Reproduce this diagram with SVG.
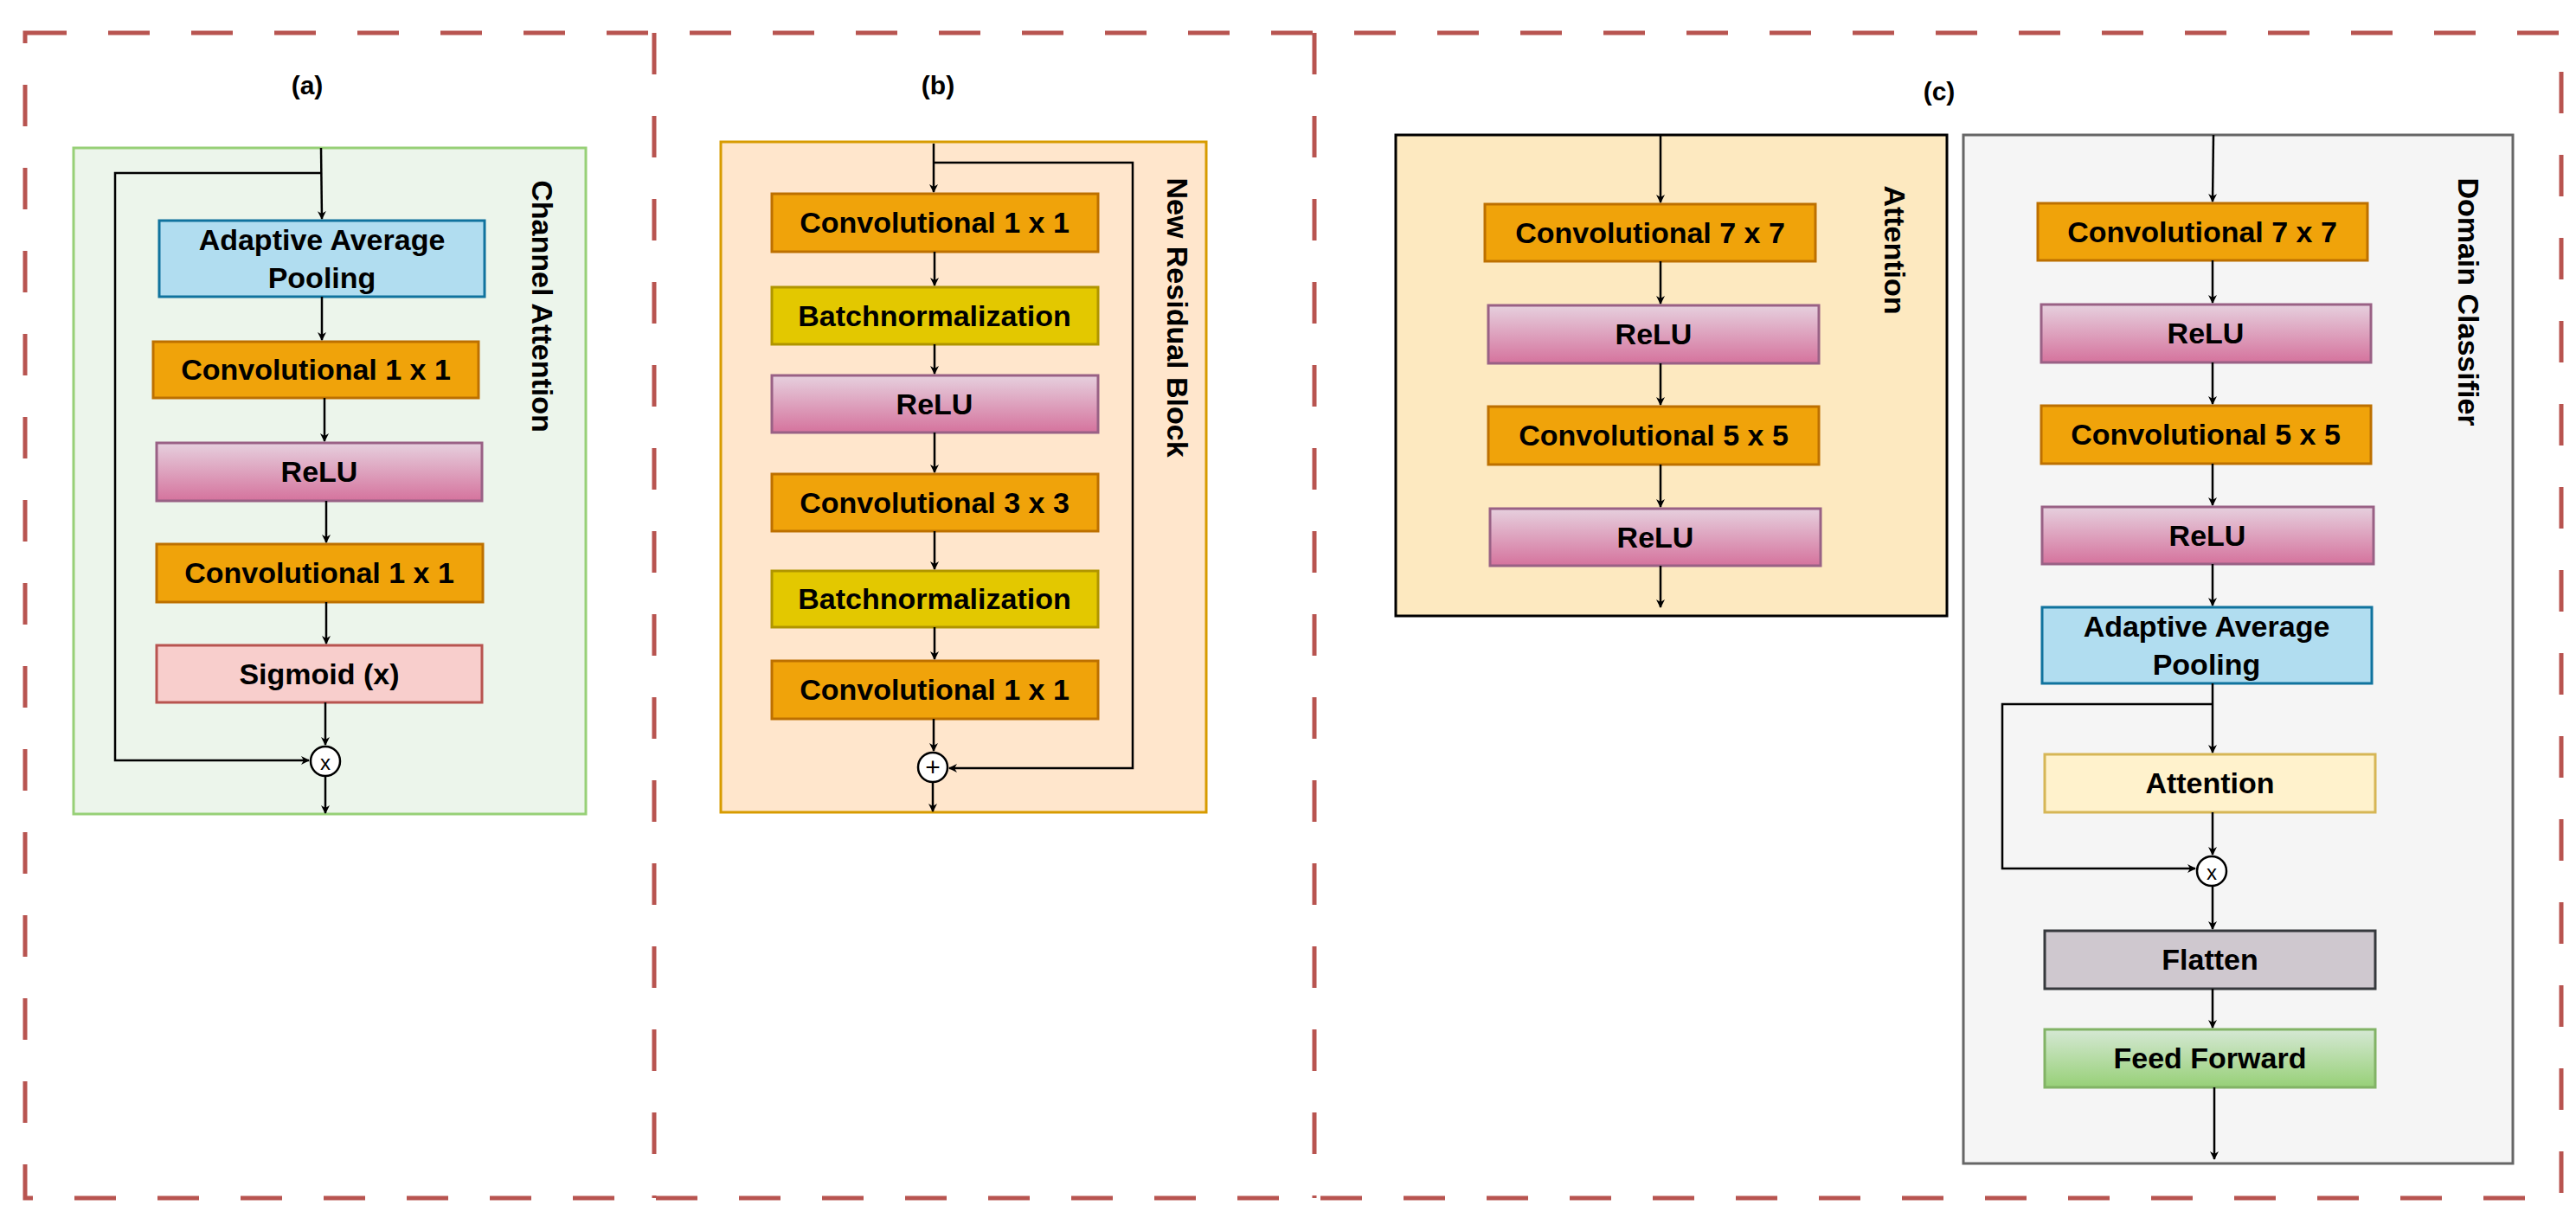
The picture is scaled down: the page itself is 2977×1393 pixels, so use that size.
<svg xmlns="http://www.w3.org/2000/svg" width="2977" height="1393" viewBox="0 0 2977 1393">
<defs>
<linearGradient id="gRelu" x1="0" y1="0" x2="0" y2="1"><stop offset="0" stop-color="#e6d0de"/><stop offset="1" stop-color="#d5739d"/></linearGradient>
<linearGradient id="gFF" x1="0" y1="0" x2="0" y2="1"><stop offset="0" stop-color="#d5e8d4"/><stop offset="1" stop-color="#97d077"/></linearGradient>
<marker id="ah" viewBox="0 0 10 10" refX="9" refY="5" markerWidth="10" markerHeight="10" markerUnits="userSpaceOnUse" orient="auto"><path d="M0,0 L10,5 L0,10 L3,5 z" fill="#000"/></marker>
</defs>
<style>
text{font-family:"Liberation Sans",Arial,sans-serif;font-weight:bold;fill:#000}
.t{font-size:34px;text-anchor:middle;dominant-baseline:central}
.lab{font-size:30px;text-anchor:middle;dominant-baseline:central}
.frame{fill:none;stroke:#b85450;stroke-width:5;stroke-dasharray:48 48}
.conv{fill:#f0a30a;stroke:#bd7000;stroke-width:3}
.relu{fill:url(#gRelu);stroke:#996185;stroke-width:3}
.aap{fill:#b1ddf0;stroke:#10739e;stroke-width:3}
.bn{fill:#e3c800;stroke:#b09500;stroke-width:3}
.sig{fill:#f8cecc;stroke:#b85450;stroke-width:3}
.att{fill:#fff2cc;stroke:#d6b656;stroke-width:3}
.fl{fill:#cfc8cf;stroke:#36393d;stroke-width:3}
.ff{fill:url(#gFF);stroke:#82b366;stroke-width:3}
.c{fill:none;stroke:#000;stroke-width:2.5;marker-end:url(#ah)}
.circ{fill:#fff;stroke:#000;stroke-width:2.5}
</style>
<g id="frames">
<path class="frame" d="M29,38 H2960 V1385 H29 Z"/>
<line class="frame" x1="756" y1="38" x2="756" y2="1385"/>
<line class="frame" x1="1519" y1="38" x2="1519" y2="1385"/>
</g>
<g id="panelA">
<text class="lab" x="355" y="98">(a)</text>
<rect x="85" y="171" width="592" height="770" fill="#ecf5eb" stroke="#97d077" stroke-width="3"/>
<text class="t" transform="translate(627,354) rotate(90)">Channel Attention</text>
</g>
<g id="a_aap"><rect class="aap" x="184" y="255" width="376" height="88"/><text class="t" x="372" y="277">Adaptive Average</text><text class="t" x="372" y="321">Pooling</text></g>
<g id="a_conv1"><rect class="conv" x="177" y="395" width="376" height="65"/><text class="t" x="365" y="427">Convolutional 1 x 1</text></g>
<g id="a_relu"><rect class="relu" x="181" y="512" width="376" height="67"/><text class="t" x="369" y="545">ReLU</text></g>
<g id="a_conv2"><rect class="conv" x="181" y="629" width="377" height="67"/><text class="t" x="369" y="662">Convolutional 1 x 1</text></g>
<g id="a_sig"><rect class="sig" x="181" y="746" width="376" height="66"/><text class="t" x="369" y="779">Sigmoid (x)</text></g>
<g id="a_mul"><circle class="circ" cx="376" cy="880" r="17"/><text x="376" y="881" style="font-size:24px;font-weight:normal;text-anchor:middle;dominant-baseline:central">x</text></g>

<g id="panelB">
<text class="lab" x="1084" y="98">(b)</text>
<rect x="833" y="164" width="561" height="775" fill="#ffe6cc" stroke="#d79b00" stroke-width="3"/>
<text class="t" transform="translate(1361,367) rotate(90)">New Residual Block</text>
</g>
<g id="b_conv1"><rect class="conv" x="892" y="224" width="377" height="67"/><text class="t" x="1080" y="257">Convolutional 1 x 1</text></g>
<g id="b_bn1"><rect class="bn" x="892" y="332" width="377" height="66"/><text class="t" x="1080" y="365">Batchnormalization</text></g>
<g id="b_relu"><rect class="relu" x="892" y="434" width="377" height="66"/><text class="t" x="1080" y="467">ReLU</text></g>
<g id="b_conv3"><rect class="conv" x="892" y="548" width="377" height="66"/><text class="t" x="1080" y="581">Convolutional 3 x 3</text></g>
<g id="b_bn2"><rect class="bn" x="892" y="660" width="377" height="65"/><text class="t" x="1080" y="692">Batchnormalization</text></g>
<g id="b_conv4"><rect class="conv" x="892" y="764" width="377" height="67"/><text class="t" x="1080" y="797">Convolutional 1 x 1</text></g>
<g id="b_add"><circle class="circ" cx="1078" cy="887" r="17"/><text x="1078" y="886" style="font-size:30px;font-weight:normal;text-anchor:middle;dominant-baseline:central">+</text></g>

<g id="panelC">
<text class="lab" x="2241" y="105">(c)</text>
<rect x="1613" y="156" width="637" height="556" fill="#fde9c0" stroke="#000" stroke-width="3"/>
<text class="t" transform="translate(2190,289) rotate(90)">Attention</text>
<rect x="2269" y="156" width="635" height="1189" fill="#f5f5f5" stroke="#666" stroke-width="3"/>
<text class="t" transform="translate(2853,349) rotate(90)">Domain Classifier</text>
</g>
<g id="c1_conv7"><rect class="conv" x="1716" y="236" width="382" height="66"/><text class="t" x="1907" y="269">Convolutional 7 x 7</text></g>
<g id="c1_relu1"><rect class="relu" x="1720" y="353" width="382" height="67"/><text class="t" x="1911" y="386">ReLU</text></g>
<g id="c1_conv5"><rect class="conv" x="1720" y="470" width="382" height="67"/><text class="t" x="1911" y="503">Convolutional 5 x 5</text></g>
<g id="c1_relu2"><rect class="relu" x="1722" y="588" width="382" height="66"/><text class="t" x="1913" y="621">ReLU</text></g>
<g id="c2_conv7"><rect class="conv" x="2355" y="235" width="381" height="66"/><text class="t" x="2545" y="268">Convolutional 7 x 7</text></g>
<g id="c2_relu1"><rect class="relu" x="2359" y="352" width="381" height="67"/><text class="t" x="2549" y="385">ReLU</text></g>
<g id="c2_conv5"><rect class="conv" x="2359" y="469" width="381" height="67"/><text class="t" x="2549" y="502">Convolutional 5 x 5</text></g>
<g id="c2_relu2"><rect class="relu" x="2360" y="586" width="383" height="66"/><text class="t" x="2551" y="619">ReLU</text></g>
<g id="c2_aap"><rect class="aap" x="2360" y="702" width="381" height="88"/><text class="t" x="2550" y="724">Adaptive Average</text><text class="t" x="2550" y="768">Pooling</text></g>
<g id="c2_att"><rect class="att" x="2363" y="872" width="382" height="67"/><text class="t" x="2554" y="905">Attention</text></g>
<g id="c2_mul"><circle class="circ" cx="2556" cy="1007" r="17"/><text x="2556" y="1008" style="font-size:24px;font-weight:normal;text-anchor:middle;dominant-baseline:central">x</text></g>
<g id="c2_flat"><rect class="fl" x="2363" y="1076" width="382" height="67"/><text class="t" x="2554" y="1109">Flatten</text></g>
<g id="c2_ff"><rect class="ff" x="2363" y="1190" width="382" height="67"/><text class="t" x="2554" y="1223">Feed Forward</text></g>

<g id="connectors">
<path class="c" d="M371,171 L372,253"/>
<path class="c" d="M372,343 V393"/>
<path class="c" d="M375,460 V510"/>
<path class="c" d="M377,579 V627"/>
<path class="c" d="M377,696 V744"/>
<path class="c" d="M376,812 V861"/>
<path class="c" d="M376,897 V940"/>
<path class="c" d="M371,200 H133 V879 H357"/>
<path class="c" d="M1079,166 V222"/>
<path class="c" d="M1080,291 V330"/>
<path class="c" d="M1080,398 V432"/>
<path class="c" d="M1080,500 V546"/>
<path class="c" d="M1080,614 V658"/>
<path class="c" d="M1080,725 V762"/>
<path class="c" d="M1079,831 V868"/>
<path class="c" d="M1078,904 V938"/>
<path class="c" d="M1079,188 H1309 V888 H1097"/>
<path class="c" d="M1919,156 V234"/>
<path class="c" d="M1919,302 V351"/>
<path class="c" d="M1919,420 V468"/>
<path class="c" d="M1919,537 V586"/>
<path class="c" d="M1919,654 V702"/>
<path class="c" d="M2558,156 L2557,233"/>
<path class="c" d="M2557,301 V350"/>
<path class="c" d="M2557,419 V467"/>
<path class="c" d="M2557,536 V584"/>
<path class="c" d="M2557,652 V700"/>
<path class="c" d="M2557,790 V870"/>
<path class="c" d="M2557,939 V988"/>
<path class="c" d="M2557,1024 V1074"/>
<path class="c" d="M2557,1143 V1188"/>
<path class="c" d="M2559,1257 V1340"/>
<path class="c" d="M2557,814 H2314 V1004 H2537"/>
</g>
</svg>
